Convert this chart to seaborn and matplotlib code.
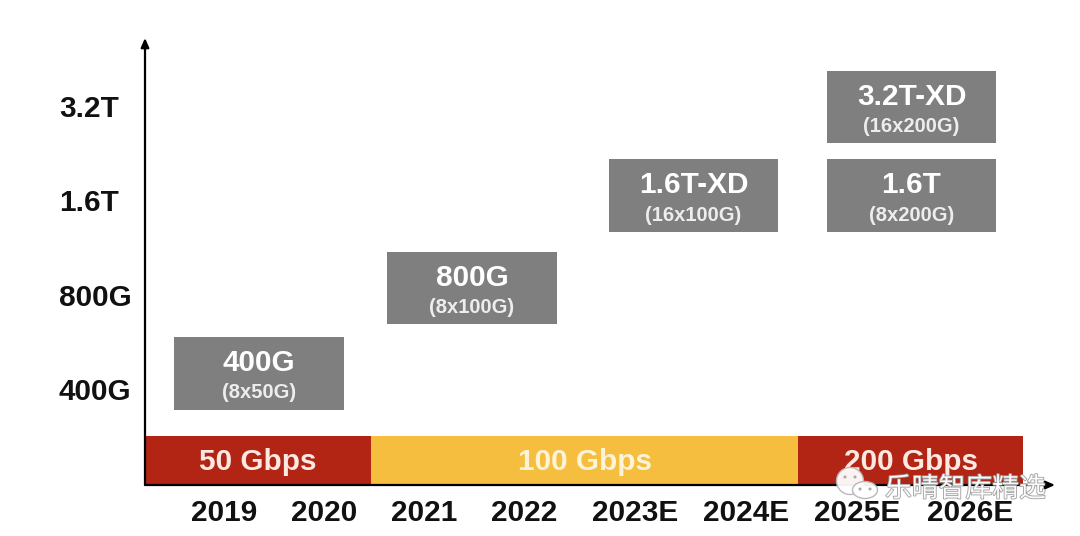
import matplotlib
matplotlib.use('Agg')
import matplotlib.pyplot as plt
import matplotlib.patheffects as pe
from matplotlib.patches import Ellipse
import seaborn as sns

sns.set_theme(style="white")
plt.rcParams['font.family'] = ['Liberation Sans', 'DejaVu Sans']

# ====================== data ======================
years = ["2019", "2020", "2021", "2022", "2023E", "2024E", "2025E", "2026E"]
year_pos = [2019, 2020, 2021, 2022, 2023.11, 2024.22, 2025.33, 2026.46]
speed_labels = ["400G", "800G", "1.6T", "3.2T"]
speed_levels = [0.01, 1.01, 2.01, 3.01]

lane_names = ["50 Gbps", "100 Gbps", "200 Gbps"]
lane_start = [2018.21, 2020.47, 2024.74]
lane_width = [2.26, 4.27, 2.25]
lane_level = -0.745

module_titles = ["400G", "800G", "1.6T-XD", "1.6T", "3.2T-XD"]
module_subs = ["(8x50G)", "(8x100G)", "(16x100G)", "(8x200G)", "(16x200G)"]
module_start = [2018.5, 2020.63, 2022.85, 2025.03, 2025.03]
module_width = [1.7, 1.7, 1.69, 1.69, 1.69]
module_level = [0.175, 1.08, 2.06, 2.06, 3.0]

RED = "#B22514"
YELLOW = "#F5BE3E"
GREY = "#7F7F7F"
lane_colors = [RED, YELLOW, RED]
lane_text = ["#FBE9E2", "#FDF3D8", "#FBE9E2"]

# ====================== figure ======================
W, H = 1080, 536
fig = plt.figure(figsize=(W / 100, H / 100), dpi=100)
ax = fig.add_axes([145 / W, 1 - 485 / H, 910 / W, 447 / H])

for name, s, w, c, tc in zip(lane_names, lane_start, lane_width, lane_colors, lane_text):
    sns.barplot(x=[w], y=[lane_level], orient="y", native_scale=True, left=s, width=0.52,
                color=c, saturation=1, errorbar=None, linewidth=0, ax=ax)
    ax.annotate(name, (s + w / 2, lane_level), xytext=(0, 0.7), textcoords="offset points",
                color=tc, fontsize=21.4, fontweight="bold",
                ha="center", va="center_baseline", zorder=5)

for title, sub, s, w, lev in zip(module_titles, module_subs, module_start, module_width, module_level):
    sns.barplot(x=[w], y=[lev], orient="y", native_scale=True, left=s, width=0.77,
                color=GREY, saturation=1, errorbar=None, linewidth=0, ax=ax)
    ax.annotate(title, (s + w / 2, lev), xytext=(0, 9.7), textcoords="offset points",
                color="white", fontsize=21.4, fontweight="bold",
                ha="center", va="center_baseline", zorder=5)
    ax.annotate(sub, (s + w / 2, lev), xytext=(0, -12.5), textcoords="offset points",
                color="#EDEDED", fontsize=14.5, fontweight="bold",
                ha="center", va="center_baseline", zorder=5)

ax.set_xlim(2018.21, 2027.31)
ax.set_ylim(-1.007, 3.733)
ax.set_xlabel("")
ax.set_ylabel("")
for sp in ax.spines.values():
    sp.set_visible(False)
ax.patch.set_alpha(0)

ax.set_xticks(year_pos, years, fontsize=21.4, fontweight="bold", color="#111111")
ax.set_yticks(speed_levels, speed_labels, fontsize=21.4, fontweight="bold", color="#111111")
ax.tick_params(axis="x", length=0, pad=10)
ax.tick_params(axis="y", length=0, pad=62)
for lab in ax.get_yticklabels():
    lab.set_ha("left")

# axis arrows
arrow = dict(arrowstyle="-|>,head_length=0.45,head_width=0.2", color="black", lw=1.6,
             shrinkA=0, shrinkB=0)
ax.annotate("", xy=(1, 0), xytext=(0, 0), xycoords="axes fraction", arrowprops=arrow, zorder=6)
ax.annotate("", xy=(0, 1), xytext=(0, 0), xycoords="axes fraction", arrowprops=arrow, zorder=6)

# watermark, in pixels from the top left
def px(x, y):
    return x / W, 1 - y / H

stroke = [pe.withStroke(linewidth=1.2, foreground="#9A9A9A")]
fig.text(*px(885, 489), "乐晴智库精选", family=['Noto Sans CJK SC', 'DejaVu Sans'], fontsize=19.3,
         color="white", ha="left", va="center", path_effects=stroke, zorder=10, alpha=0.95)
tf = fig.transFigure
for cx, cy, ew, eh in [(850, 481, 27, 27), (865, 490, 25, 17)]:
    x0, y0 = px(cx, cy)
    fig.add_artist(Ellipse((x0, y0), ew / W, eh / H, transform=tf, facecolor="white",
                           edgecolor="#B5B5B5", lw=1, alpha=0.95, zorder=9))
for x, y in [(845, 477), (855, 477), (860, 489), (870, 489)]:
    x0, y0 = px(x, y)
    fig.add_artist(Ellipse((x0, y0), 3 / W, 3 / H, transform=tf, facecolor="#A8A8A8",
                           edgecolor="none", zorder=11))

fig.savefig("out.png", dpi=100)
